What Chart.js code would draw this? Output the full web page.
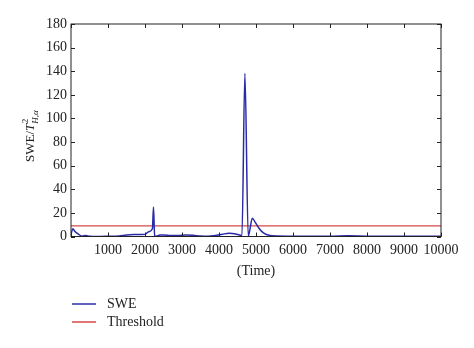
<!DOCTYPE html>
<html>
<head>
<meta charset="utf-8">
<script src="https://cdn.jsdelivr.net/npm/chart.js@4"></script>
<style>
  html, body { margin: 0; padding: 0; background: #fff; }
  #wrap { width: 474px; height: 348px; }
</style>
</head>
<body>
<div id="wrap"><canvas id="sweChart" width="474" height="348"></canvas></div>
<script>
// data
const times = [0, 50, 100, 200, 300, 400, 500, 700, 1000, 1300, 1500, 1700, 1900, 2000, 2100, 2200, 2230, 2260, 2300, 2400, 2500, 2700, 2900, 3100, 3300, 3500, 3700, 3900, 4100, 4270, 4450, 4580, 4620, 4700, 4790, 4830, 4900, 4980, 5080, 5200, 5380, 5600, 6000, 7000, 7500, 8000, 9000, 10000];
const swe = [2, 6.5, 4.5, 2, 0.3, 0.8, 0.3, 0, 0.2, 0.5, 1.2, 1.6, 1.7, 1.8, 4, 6.5, 25, 0.5, 0.3, 1.2, 1.3, 0.8, 0.8, 1.3, 1.0, 0.4, 0.2, 0.8, 2.0, 2.7, 2.2, 1.0, 0.5, 138, 0.3, 5, 15.5, 12, 7, 3, 0.8, 0.4, 0.2, 0.2, 0.6, 0.3, 0.2, 0.2];
const thresholdTimes = [0, 10000];
const thresholdValues = [9, 9];
const xTicks = [0, 1000, 2000, 3000, 4000, 5000, 6000, 7000, 8000, 9000, 10000];
const yTicks = [0, 20, 40, 60, 80, 100, 120, 140, 160, 180];

const FONT = "'Liberation Serif', 'Times New Roman', serif";
const TEXT = "#222";

// 内向きの目盛りと枠
const boxPlugin = {
  id: "box",
  afterDraw(chart) {
    const { ctx, chartArea: a, scales } = chart;
    ctx.save();
    ctx.strokeStyle = "#222";
    ctx.lineWidth = 1;
    ctx.strokeRect(a.left, a.top, a.right - a.left, a.bottom - a.top);
    ctx.beginPath();
    xTicks.forEach(t => {
      const x = Math.round(scales.x.getPixelForValue(t)) + 0.5;
      ctx.moveTo(x, a.bottom); ctx.lineTo(x, a.bottom - 4);
      ctx.moveTo(x, a.top); ctx.lineTo(x, a.top + 4);
    });
    yTicks.forEach(t => {
      const y = Math.round(scales.y.getPixelForValue(t)) + 0.5;
      ctx.moveTo(a.left, y); ctx.lineTo(a.left + 4, y);
      ctx.moveTo(a.right, y); ctx.lineTo(a.right - 4, y);
    });
    ctx.stroke();

    // y title: SWE/T^2_{H,α}
    ctx.translate(34, 162);
    ctx.rotate(-Math.PI / 2);
    ctx.fillStyle = TEXT;
    ctx.textBaseline = "alphabetic";
    ctx.textAlign = "left";
    ctx.font = "13px " + FONT;
    ctx.fillText("SWE/", 0, 0);
    let w = ctx.measureText("SWE/").width;
    ctx.font = "italic 13px " + FONT;
    ctx.fillText("T", w, 0);
    w += ctx.measureText("T").width;
    ctx.font = "9px " + FONT;
    ctx.fillText("2", w + 0.5, -6.5);
    ctx.font = "italic 9px " + FONT;
    ctx.fillText("H,α", w, 3.5);

    // legend
    ctx.setTransform(1, 0, 0, 1, 0, 0);
    const rows = [304, 322];
    chart.data.datasets.forEach((ds, i) => {
      ctx.strokeStyle = ds.borderColor;
      ctx.lineWidth = 1.5;
      ctx.beginPath();
      ctx.moveTo(72, rows[i]); ctx.lineTo(96, rows[i]);
      ctx.stroke();
      ctx.fillStyle = TEXT;
      ctx.font = "14px " + FONT;
      ctx.textBaseline = "middle";
      ctx.fillText(ds.label, 107, rows[i]);
    });
    ctx.restore();
  }
};

new Chart(document.getElementById("sweChart").getContext("2d"), {
  type: "line",
  data: {
    datasets: [
      {
        label: "SWE",
        data: times.map((t, i) => ({ x: t, y: swe[i] })),
        borderColor: "#2a2aa8",
        borderWidth: 1.5,
        pointRadius: 0,
        cubicInterpolationMode: "monotone"
      },
      {
        label: "Threshold",
        data: thresholdTimes.map((t, i) => ({ x: t, y: thresholdValues[i] })),
        borderColor: "#d44a4a",
        borderWidth: 1.4,
        pointRadius: 0
      }
    ]
  },
  options: {
    responsive: false,
    animation: false,
    layout: { padding: { left: 0, top: 24, right: 33, bottom: 67.5 } },
    plugins: { legend: { display: false }, tooltip: { enabled: false } },
    scales: {
      x: {
        type: "linear",
        min: 0,
        max: 10000,
        afterBuildTicks: s => { s.ticks = xTicks.map(v => ({ value: v })); },
        afterFit: s => { s.height = 44; },
        grid: { display: false, drawTicks: false },
        border: { display: false },
        ticks: {
          padding: 5,
          maxRotation: 0,
          autoSkip: false,
          color: TEXT,
          font: { family: FONT, size: 14 },
          callback: v => (v === 0 ? "" : String(v))
        },
        title: {
          display: true,
          text: "(Time)",
          color: TEXT,
          font: { family: FONT, size: 14 },
          padding: { top: 0, bottom: 1 }
        }
      },
      y: {
        min: 0,
        max: 180,
        afterBuildTicks: s => { s.ticks = yTicks.map(v => ({ value: v })); },
        afterFit: s => { s.width = 71; },
        grid: { display: false, drawTicks: false },
        border: { display: false },
        ticks: {
          padding: 4,
          color: TEXT,
          font: { family: FONT, size: 14 }
        }
      }
    }
  },
  plugins: [boxPlugin]
});
</script>
</body>
</html>
